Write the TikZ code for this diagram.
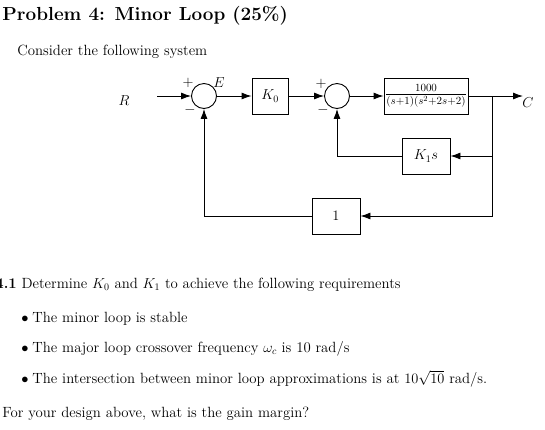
\documentclass[tikz,border=0pt]{standalone}
\usetikzlibrary{arrows.meta}
\begin{document}
\begin{tikzpicture}[x=1pt,y=-1pt,
  line width=0.9pt,
  every node/.style={font=\fontsize{14.8}{17}\selectfont, inner sep=0pt},
  arr/.style={-{Latex[length=10pt,width=7pt]}},
  blk/.style={draw, minimum height=36pt, inner sep=0pt},
  sumc/.style={draw, circle, minimum size=25pt, inner sep=0pt},
  txt/.style={anchor=base west, inner sep=0pt}]
\clip (0,0) rectangle (545,429);
\fill[white] (0,0) rectangle (545,429);
% title and text
\node[txt, font=\fontsize{18.9}{23}\selectfont\bfseries] (title) at (2,20) {Problem 4: Minor Loop (25\%)};
\node[txt] (consider) at (17,55) {Consider the following system};
\node[txt] (q) at (-5,288) {\textbf{4.1} Determine $K_0$ and $K_1$ to achieve the following requirements};
\node[anchor=base] (b1) at (25,322) {$\bullet$};
\node[txt] (t1) at (32,322) {The minor loop is stable};
\node[anchor=base] (b2) at (25,352) {$\bullet$};
\node[txt] (t2) at (32,352) {The major loop crossover frequency $\omega_c$ is 10 rad/s};
\node[anchor=base] (b3) at (25,383) {$\bullet$};
\node[txt] (t3) at (32,383) {The intersection between minor loop approximations is at $10\sqrt{10}$ rad/s.};
\node[txt] (last) at (2,417) {For your design above, what is the gain margin?};
% diagram
\node[sumc] (s1) at (204,96) {};
\node[blk, minimum width=36pt] (k0) at (270,96) {$K_0$};
\node[sumc] (s2) at (337,96) {};
\node[blk, minimum width=84pt] (g) at (426,96) {\fontsize{16.3}{16}\selectfont$\frac{1000}{(s+1)(s^2+2s+2)}$};
\node[blk, minimum width=48pt] (k1) at (426,156) {$K_1 s$};
\node[blk, minimum width=48pt] (one) at (336,216) {$1$};
\node[anchor=base] (R) at (124,105.6) {$R$};
\node (C) at (528,103) {$C$};
\node (E) at (219,83) {$E$};
\node (p1) at (188,83) {$+$};
\node (m1) at (190,110) {$-$};
\node (p2) at (321,84) {$+$};
\node (m2) at (323,110) {$-$};
\coordinate (rin) at (157,96);
\coordinate (br) at (492,96);
\coordinate (cout) at (523,96);
\draw[arr] (rin) -- (s1.west);
\draw[arr] (s1.east) -- (k0.west);
\draw[arr] (k0.east) -- (s2.west);
\draw[arr] (s2.east) -- (g.west);
\draw[arr] (g.east) -- (cout);
\draw[arr] (br) |- (k1.east);
\draw[arr] (br) |- (one.east);
\draw[arr] (k1.west) -| (s2.south);
\draw[arr] (one.west) -| (s1.south);
\end{tikzpicture}
\end{document}
